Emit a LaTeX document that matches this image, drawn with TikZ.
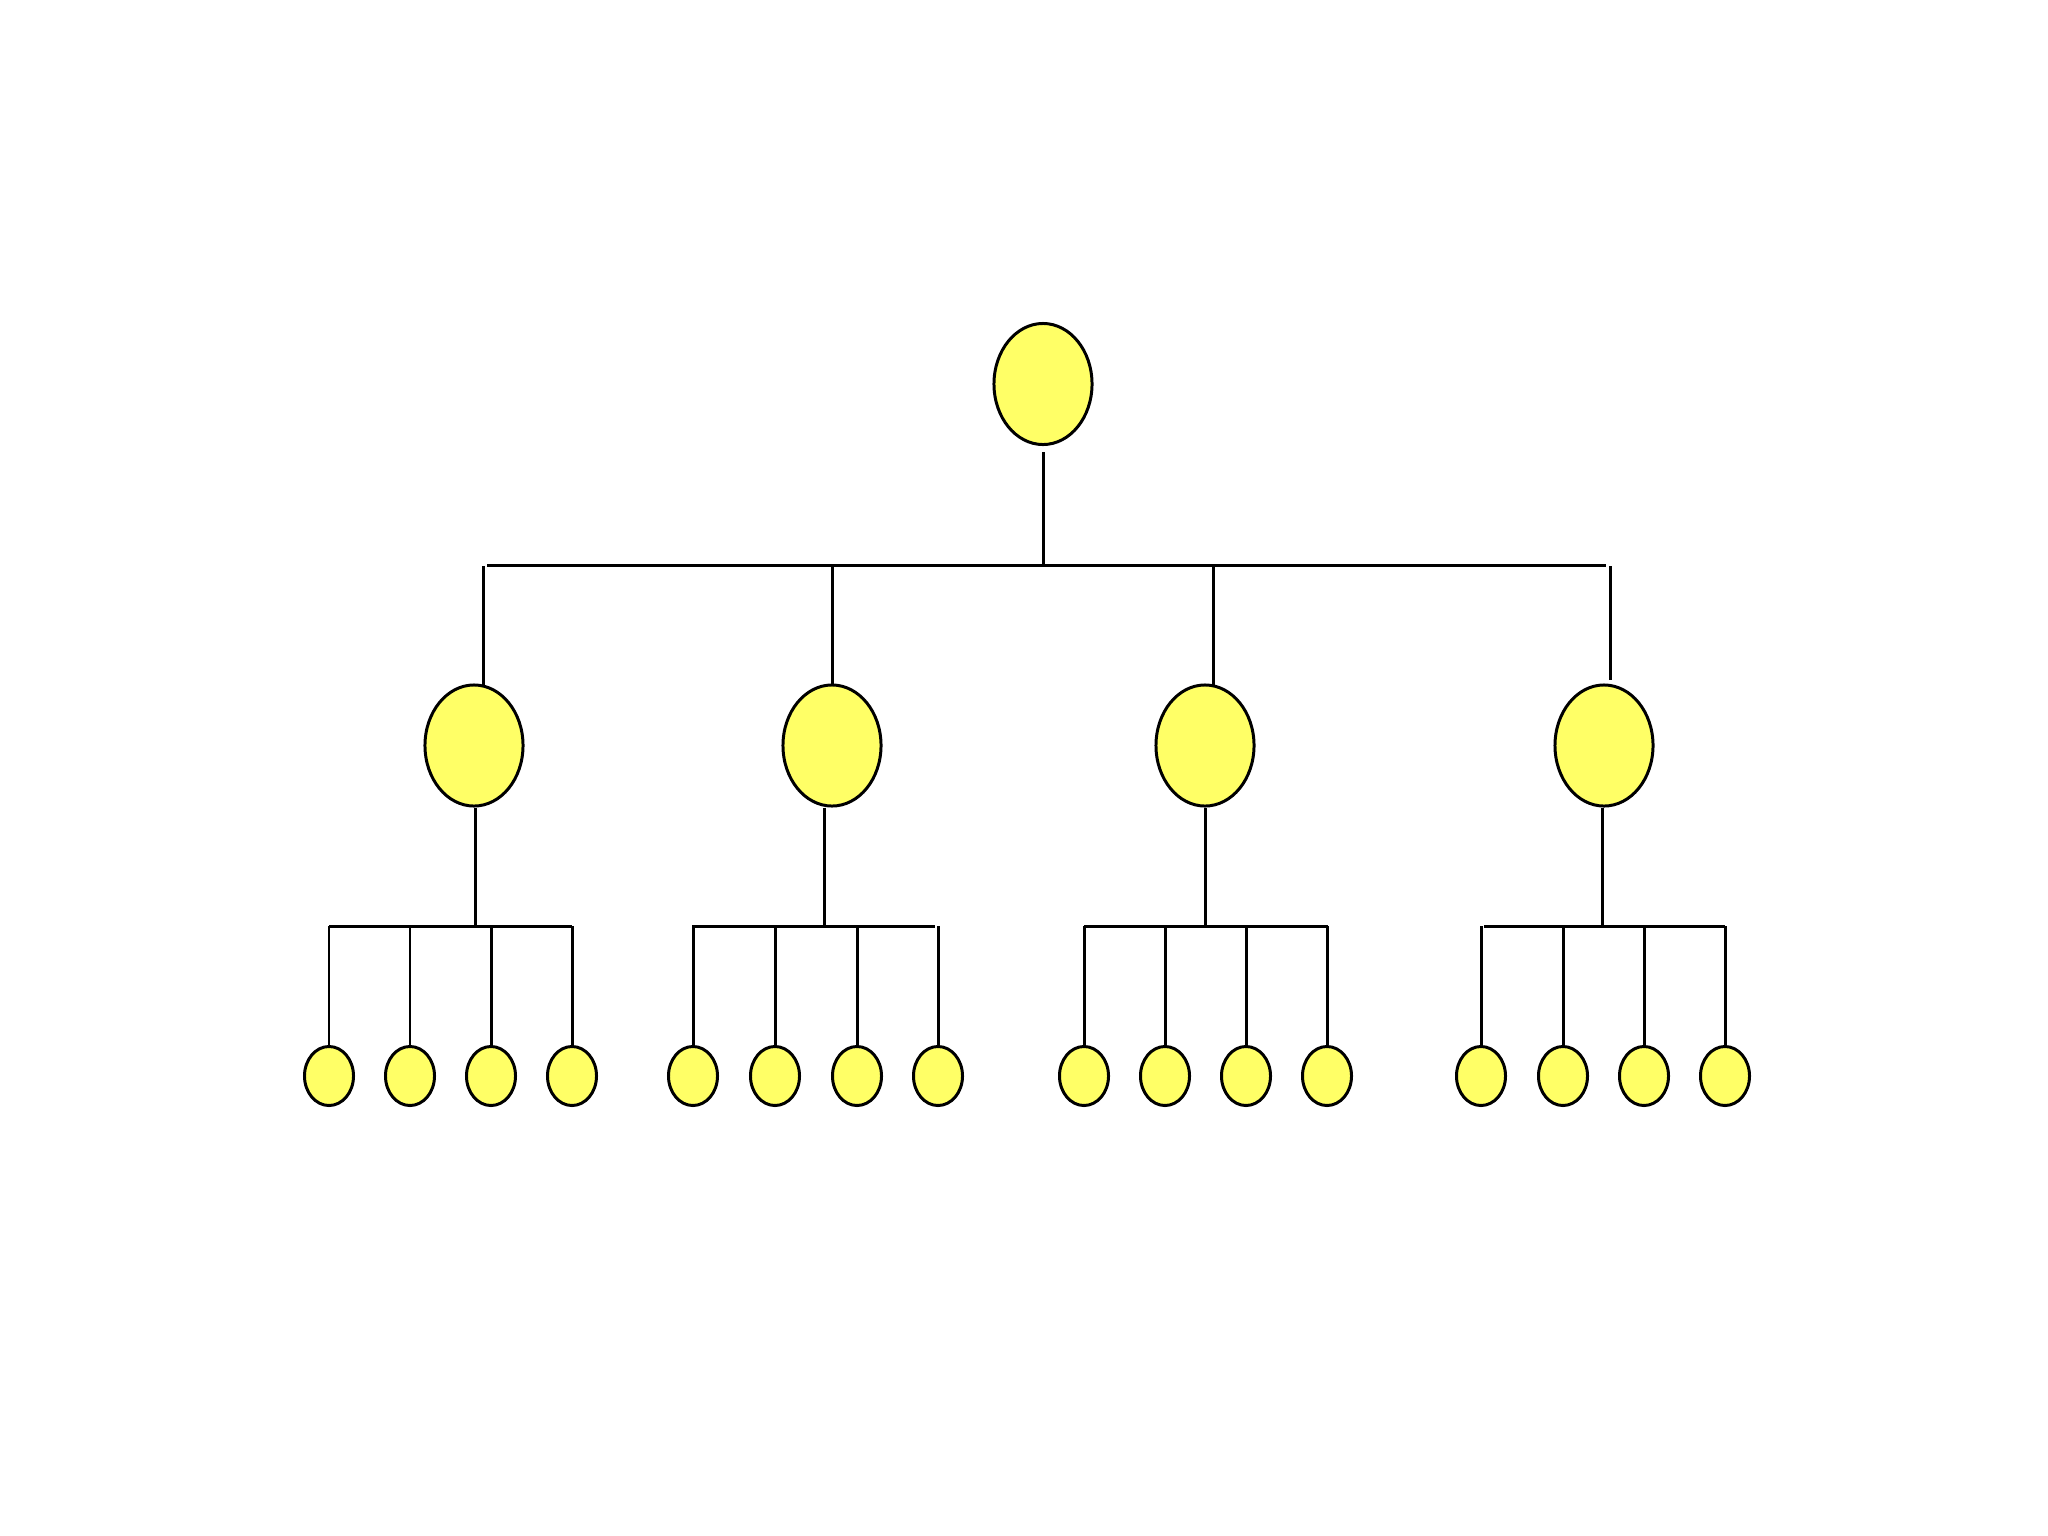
\documentclass[tikz,border=0pt]{standalone}
\usetikzlibrary{shapes.geometric}
\definecolor{nodeyellow}{HTML}{FFFF66}
\begin{document}
\begin{tikzpicture}[x=0.01cm,y=-0.01cm,
  line width=0.85pt,
  bignode/.style={ellipse,draw=black,fill=nodeyellow,line width=0.85pt,inner sep=0pt,minimum width=0.98cm,minimum height=1.21cm},
  smallnode/.style={ellipse,draw=black,fill=nodeyellow,line width=0.85pt,inner sep=0pt,minimum width=0.49cm,minimum height=0.59cm},
  conn/.style={draw=black,line width=0.85pt}]
\fill[white] (0,0) rectangle (2048,1536);
\useasboundingbox (0,0) rectangle (2048,1536);
% root
\node[bignode] (root) at (1043,384) {};
\coordinate (rj) at (1043,565);
\coordinate (tl) at (487,565);
\coordinate (tr) at (1606,565);
\draw[conn] ([yshift=-0.06cm]root.south) -- (rj);
\draw[conn] (tl) -- (tr);
% middle level
\foreach \i/\mx/\tx/\te/\lx/\bl/\br in {1/474/483/686/475/329/572,2/832/832/686/824/692/935,3/1205/1213/686/1205/1084/1328,4/1604/1610/680/1602/1484/1725}{
  \node[bignode] (m\i) at (\mx,745.5) {};
  \coordinate (t\i) at (\tx,566);
  \coordinate (te\i) at (\tx,\te);
  \draw[conn] (t\i) -- (te\i);
  \coordinate (b\i) at (\lx,926);
  \draw[conn] (b\i |- m\i.south) -- (b\i);
  \coordinate (bl\i) at (\bl,926);
  \coordinate (br\i) at (\br,926);
  \draw[conn] (bl\i) -- (br\i);
}
% leaves
\foreach \g/\xa/\xb/\xc/\xd in {1/329/410/491/572,2/693/775/857/938,3/1084/1165/1246/1327,4/1481/1563/1644/1725}{
  \foreach \k/\x in {1/\xa,2/\xb,3/\xc,4/\xd}{
    \node[smallnode] (c\g\k) at (\x,1076) {};
    \draw[conn] (c\g\k.north |- bl\g) -- (c\g\k.north);
  }
}
\end{tikzpicture}
\end{document}
